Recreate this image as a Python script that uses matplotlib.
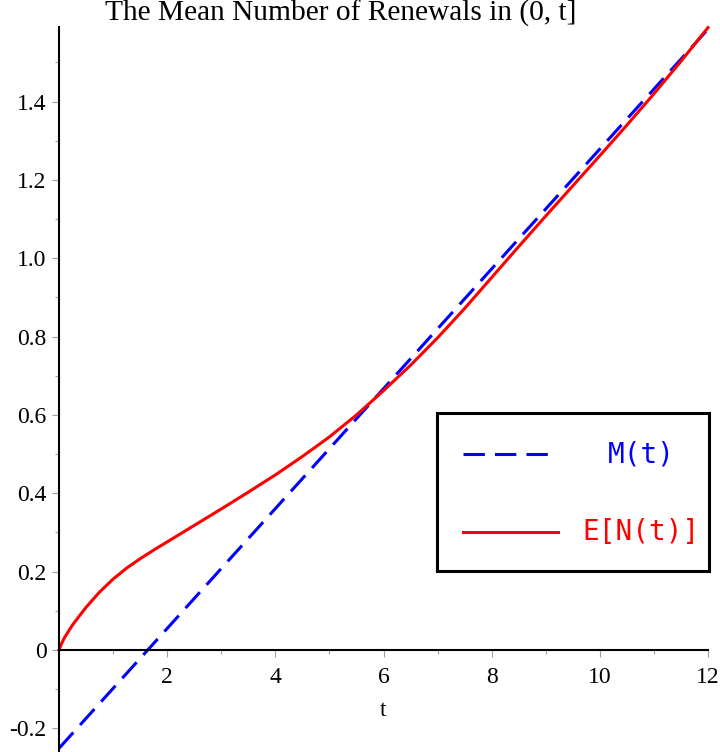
import matplotlib
matplotlib.use("Agg")
import matplotlib.pyplot as plt
from matplotlib.patches import Rectangle
from matplotlib.lines import Line2D
from matplotlib.ticker import FixedLocator, FixedFormatter, MultipleLocator

# values
t_vals = [0, 0.05, 0.1, 0.25, 0.5, 0.75, 1, 1.25, 1.5, 1.75, 2, 2.5, 3, 3.5,
          4, 4.5, 5, 5.5, 6, 6.5, 7, 7.5, 8, 8.5, 9, 9.5, 10, 10.5, 11, 11.5, 12]
en_vals = [0, 0.017, 0.031, 0.064, 0.109, 0.148, 0.181, 0.209, 0.233, 0.255,
           0.276, 0.318, 0.36, 0.403, 0.447, 0.494, 0.544, 0.600, 0.662, 0.727,
           0.797, 0.872, 0.951, 1.030, 1.108, 1.185, 1.262, 1.340, 1.420,
           1.503, 1.589]
m_t = [0, 12]
m_vals = [-0.251, 1.585]

xticks = [2, 4, 6, 8, 10, 12]
yticks = [-0.2, 0, 0.2, 0.4, 0.6, 0.8, 1.0, 1.2, 1.4]
ytick_labels = ['-0.2', '0', '0.2', '0.4', '0.6', '0.8', '1.0', '1.2', '1.4']

plt.rcParams['axes.unicode_minus'] = False
serif = 'Liberation Serif'

fig = plt.figure(figsize=(7.2, 7.52), dpi=100)
ax = fig.add_axes([59 / 720, 0, 649 / 720, 725 / 752])

ax.plot(m_t, m_vals, color='#0000ff', lw=2.2, dashes=(7, 3.3), clip_on=False)
ax.plot(t_vals, en_vals, color='#ff0000', lw=2.2, clip_on=False)

ax.set_xlim(0, 12)
ax.set_ylim(-0.2604, 1.5905)

for s in ['top', 'right']:
    ax.spines[s].set_visible(False)
ax.spines['left'].set_position(('data', 0))
ax.spines['bottom'].set_position(('data', 0))
ax.spines['left'].set_linewidth(1.5)
ax.spines['bottom'].set_linewidth(1.5)

ax.xaxis.set_major_locator(FixedLocator(xticks))
ax.xaxis.set_minor_locator(MultipleLocator(1))
ax.yaxis.set_major_locator(FixedLocator(yticks))
ax.yaxis.set_major_formatter(FixedFormatter(ytick_labels))
ax.yaxis.set_minor_locator(MultipleLocator(0.1))

ax.tick_params(which='both', color='#a0a0a0', width=0.8, labelcolor='black')
ax.tick_params(which='major', length=5)
ax.tick_params(which='minor', length=2.6)
ax.tick_params(axis='x', pad=7)
ax.tick_params(axis='y', pad=4)
for lab in ax.get_xticklabels() + ax.get_yticklabels():
    lab.set_fontfamily(serif)
    lab.set_fontsize(17)

ax.set_xlabel('t', fontfamily=serif, fontsize=17)
ax.xaxis.set_label_coords(0.5, 0.072)

fig.text(341 / 720, 1 - 21 / 752, 'The Mean Number of Renewals in (0, t]',
         fontfamily=serif, fontsize=21.2, ha='center', va='baseline')

# legend box drawn in axes coordinates
tr = ax.transAxes
ax.add_patch(Rectangle((0.5824, 0.2491), 0.4191, 0.2178, transform=tr,
                       fill=False, lw=2.2, ec='black', clip_on=False))
ax.add_line(Line2D([0.6225, 0.7581], [0.4110, 0.4110], transform=tr,
                   color='#0000ff', lw=2.2, dashes=(7, 3.3), clip_on=False))
ax.add_line(Line2D([0.6225, 0.7689], [0.3030, 0.3030], transform=tr,
                   color='#ff0000', lw=2.2, clip_on=False))
ax.text(0.8968, 0.4110, 'M(t)', transform=tr, color='#0000ff',
        fontfamily='DejaVu Sans Mono', fontsize=20, ha='center', va='center')
ax.text(0.8968, 0.3030, 'E[N(t)]', transform=tr, color='#ff0000',
        fontfamily='DejaVu Sans Mono', fontsize=20, ha='center', va='center')

fig.savefig('out.png', dpi=100)
